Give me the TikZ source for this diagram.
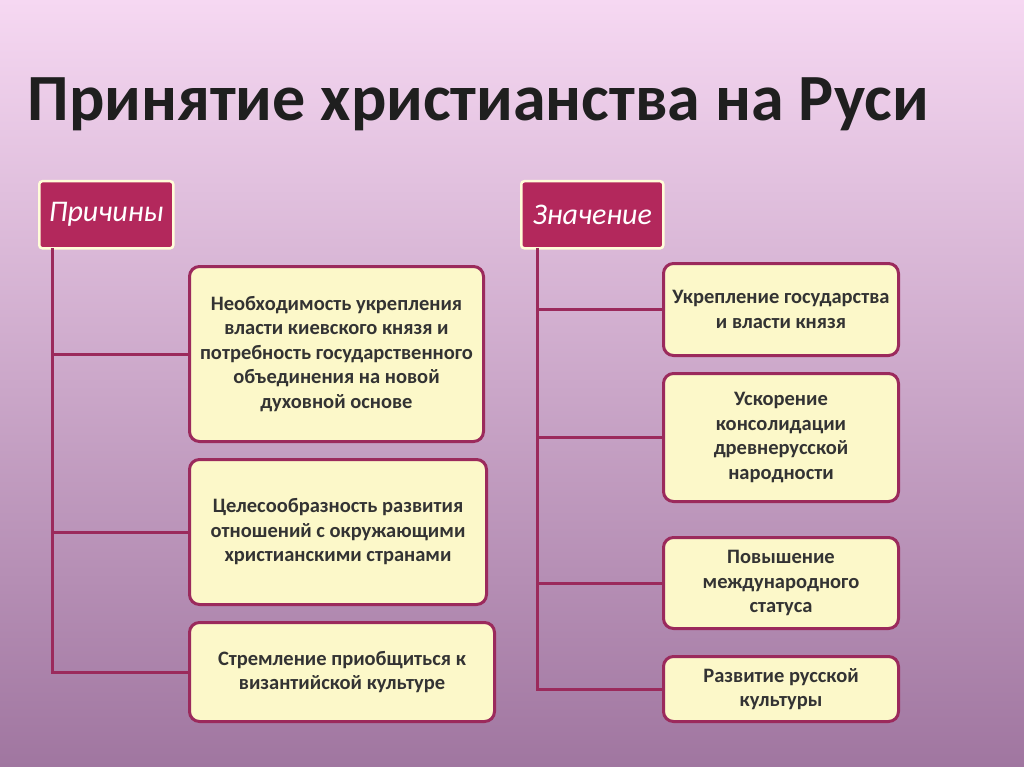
\documentclass[tikz,border=0pt]{standalone}
\usepackage{fontspec}
\setmainfont{Carlito}
\begin{document}
\begin{tikzpicture}[x=1pt,y=-1pt,
  hdr/.style={draw=white!85!yellow,line width=2.5pt,fill=hdrc,rounded corners=3pt,text=white,font=\itshape\fontsize{30}{34}\selectfont,anchor=north west,inner sep=0pt},
  cbox/.style={draw=boxb,line width=3pt,fill=boxf,rounded corners=10pt,anchor=north west,align=center,inner sep=0pt,font=\bfseries\fontsize{20.5}{24.5}\selectfont,text=black!80},
  conn/.style={draw=boxb,line width=3pt}]
\definecolor{hdrc}{HTML}{B3285C}
\definecolor{boxb}{HTML}{9B2A5C}
\definecolor{boxf}{HTML}{FCF8C9}
\shade[top color={rgb,255:red,246;green,216;blue,242},bottom color={rgb,255:red,160;green,118;blue,160}] (0,0) rectangle (1024,767);
\useasboundingbox (0,0) rectangle (1024,767);
\node[anchor=west,font=\bfseries\fontsize{66}{72}\selectfont,text=black!88] (title) at (24,104) {Принятие христианства на Руси};
\node[hdr,minimum width=134pt,minimum height=67pt] (h1) at (38,180) {Причины};
\node[hdr,minimum width=142pt,minimum height=67pt] (h2) at (520,180) {Значение};
\node[cbox,minimum width=294pt,minimum height=175pt] (l1) at (188,265) {Необходимость укрепления\\власти киевского князя и\\потребность государственного\\объединения на новой\\духовной основе};
\node[cbox,minimum width=297pt,minimum height=145pt] (l2) at (188,458) {Целесообразность развития\\отношений с окружающими\\христианскими странами};
\node[cbox,minimum width=305pt,minimum height=99pt] (l3) at (188,621) {Стремление приобщиться к\\византийской культуре};
\node[cbox,minimum width=235pt,minimum height=92pt] (r1) at (662,262) {Укрепление государства\\и власти князя};
\node[cbox,minimum width=235pt,minimum height=128pt] (r2) at (662,372) {Ускорение\\консолидации\\древнерусской\\народности};
\node[cbox,minimum width=235pt,minimum height=91pt] (r3) at (662,536) {Повышение\\международного\\статуса};
\node[cbox,minimum width=235pt,minimum height=65pt] (r4) at (662,655) {Развитие русской\\культуры};
\coordinate (lt) at (52,248);
\coordinate (rt) at (537,248);
\draw[conn] (lt) |- (l3.west);
\draw[conn] (l1.west) -- (l1.west -| lt);
\draw[conn] (l2.west) -- (l2.west -| lt);
\draw[conn] (rt) |- (r4.west);
\draw[conn] (r1.west) -- (r1.west -| rt);
\draw[conn] (r2.west) -- (r2.west -| rt);
\draw[conn] (r3.west) -- (r3.west -| rt);
\end{tikzpicture}
\end{document}
